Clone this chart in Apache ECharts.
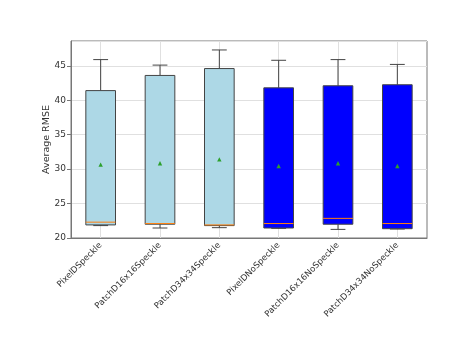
<!DOCTYPE html>
<html>
<head>
<meta charset="utf-8">
<script src="https://cdn.jsdelivr.net/npm/echarts@6/dist/echarts.min.js"></script>
<style>html,body{margin:0;padding:0;background:#fff}#c{width:474px;height:341px}</style>
</head>
<body>
<div id="c"></div>
<script>
const categories = ['PixelDSpeckle','PatchD16x16Speckle','PatchD34x34Speckle','PixelDNoSpeckle','PatchD16x16NoSpeckle','PatchD34x34NoSpeckle'];
const whiskerLow = [21.8, 21.45, 21.5, 21.4, 21.25, 21.3];
const q1 = [21.9, 22.0, 21.8, 21.45, 22.0, 21.35];
const median = [22.3, 22.1, 21.9, 22.1, 22.85, 22.1];
const q3 = [41.4, 43.6, 44.6, 41.8, 42.1, 42.25];
const whiskerHigh = [45.9, 45.1, 47.3, 45.8, 45.9, 45.2];
const means = [30.6, 30.8, 31.35, 30.4, 30.8, 30.4];
const boxColors = ['#add8e6','#add8e6','#add8e6','#0000ff','#0000ff','#0000ff'];
const yTicks = [20, 25, 30, 35, 40, 45];

const data = categories.map((c, i) => [i, whiskerLow[i], q1[i], median[i], q3[i], whiskerHigh[i], means[i]]);

const chart = echarts.init(document.getElementById('c'));
chart.setOption({
  animation: false,
  grid: {left: 71, right: 47, top: 41, bottom: 103, show: true, borderColor: '#777', borderWidth: 1},
  xAxis: {
    type: 'category', data: categories, boundaryGap: true,
    axisLine: {lineStyle: {color: '#777'}},
    axisTick: {alignWithLabel: true, length: 4, lineStyle: {color: '#777'}},
    axisLabel: {rotate: 45, fontSize: 8.5, color: '#333', margin: 6, fontFamily: 'DejaVu Sans'},
    splitLine: {show: true, alignWithLabel: true, lineStyle: {color: '#e0e0e0', width: 1}}
  },
  yAxis: {
    type: 'value', min: 20, max: 48.6, interval: 5,
    name: 'Average RMSE', nameLocation: 'middle', nameGap: 19, nameMoveOverlap: false,
    nameTextStyle: {fontSize: 9.5, color: '#333', fontFamily: 'DejaVu Sans'},
    axisLine: {show: true, lineStyle: {color: '#777'}},
    axisTick: {show: true, length: 4, lineStyle: {color: '#777'}},
    axisLabel: {fontSize: 9, color: '#333', margin: 5, fontFamily: 'DejaVu Sans', showMaxLabel: false,
      formatter: v => yTicks.includes(v) ? String(v) : ''},
    splitLine: {show: true, lineStyle: {color: '#e0e0e0', width: 1}}
  },
  series: [{
    type: 'custom',
    data: data,
    encode: {x: 0, y: [1, 2, 3, 4, 5, 6]},
    renderItem: function (params, api) {
      const i = api.value(0);
      const bw = api.size([1, 0])[0] * 0.5;
      const cx = api.coord([i, 0])[0];
      const yLo = api.coord([i, api.value(1)])[1];
      const yQ1 = api.coord([i, api.value(2)])[1];
      const yMed = api.coord([i, api.value(3)])[1];
      const yQ3 = api.coord([i, api.value(4)])[1];
      const yHi = api.coord([i, api.value(5)])[1];
      const yMean = api.coord([i, api.value(6)])[1];
      const stroke = {stroke: '#444', lineWidth: 1};
      const cw = bw * 0.5;
      return {
        type: 'group',
        children: [
          {type: 'line', shape: {x1: cx, y1: yQ3, x2: cx, y2: yHi}, style: stroke},
          {type: 'line', shape: {x1: cx, y1: yQ1, x2: cx, y2: yLo}, style: stroke},
          {type: 'line', shape: {x1: cx - cw / 2, y1: yHi, x2: cx + cw / 2, y2: yHi}, style: stroke},
          {type: 'line', shape: {x1: cx - cw / 2, y1: yLo, x2: cx + cw / 2, y2: yLo}, style: stroke},
          {type: 'rect', shape: {x: cx - bw / 2, y: yQ3, width: bw, height: yQ1 - yQ3},
            style: {fill: boxColors[i], stroke: '#444', lineWidth: 1}},
          {type: 'line', shape: {x1: cx - bw / 2, y1: yMed, x2: cx + bw / 2, y2: yMed},
            style: {stroke: '#ff7f0e', lineWidth: 1}},
          {type: 'polygon', shape: {points: [[cx, yMean - 2.5], [cx - 2.2, yMean + 1.8], [cx + 2.2, yMean + 1.8]]},
            style: {fill: '#2ca02c'}}
        ]
      };
    }
  }]
});
</script>
</body>
</html>
